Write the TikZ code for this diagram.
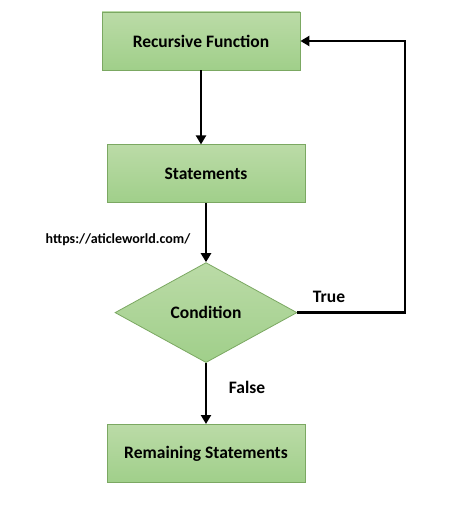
\documentclass[tikz,border=0pt]{standalone}
\usepackage{fontspec}
\setmainfont{Carlito}
\usepackage{tikz}
\usetikzlibrary{positioning}
\usetikzlibrary{shapes.geometric}
\usetikzlibrary{arrows.meta}
\definecolor{boxtop}{HTML}{BBDBA7}
\definecolor{boxbottom}{HTML}{A0CF8A}
\definecolor{boxline}{HTML}{7BA862}

\begin{document}
\begin{tikzpicture}[
        x=1pt, y=-1pt,
        every node/.style = {font=\fontsize{17.5}{21}\selectfont\bfseries},
        block/.style = {rectangle, draw=boxline, line width=0.8pt, top color=boxtop, bottom color=boxbottom, minimum width=198pt, minimum height=58pt},
        decide/.style = {diamond, draw=boxline, line width=0.8pt, top color=boxtop, bottom color=boxbottom, minimum width=182pt, minimum height=100pt, inner sep=0pt},
        flow/.style = {line width=2.8pt, -{Triangle[width=10pt,length=9pt]}}
        ]
        \useasboundingbox (0,0) rectangle (472,511);
        \node[block] (rec) at (201,41) {Recursive Function};
        \node[block] (stat) [below=74pt of rec, xshift=5pt] {Statements};
        \node[decide] (cond) [below=59pt of stat] {Condition};
        \node[block] (rem) [below=61pt of cond] {Remaining Statements};
        \node (url) at (118,240) [font=\fontsize{14}{17}\selectfont\bfseries] {https://aticleworld.com/};
        \node (true) at (329,297) {True};
        \node (false) at (247,387) {False};
        \coordinate (loop) at (405,41);
        \draw[flow] (rec) -- (rec |- stat.north);
        \draw[flow] (stat) -- (cond);
        \draw[flow] (cond) -- (rem);
        \draw[flow] (cond.east) -| (loop) -- (rec.east);
\end{tikzpicture}
\end{document}
